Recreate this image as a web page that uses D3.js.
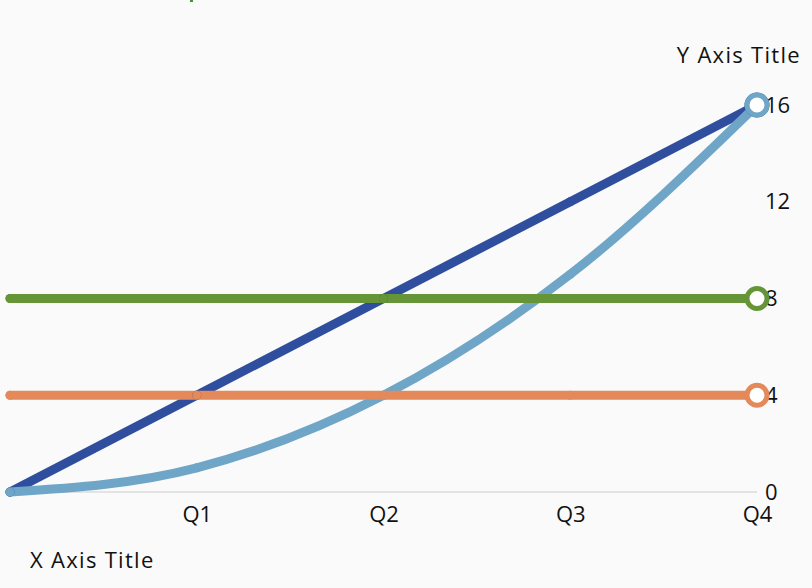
<!DOCTYPE html>
<html><head><meta charset="utf-8">
<script src="https://cdn.jsdelivr.net/npm/d3@7"></script>
<style>body{margin:0;background:#fafafa;} svg{display:block;}</style>
</head><body>
<svg id="c" width="812" height="588"></svg>
<script>
const categories = ["", "Q1", "Q2", "Q3", "Q4"];
const seriesLinear = [0, 4, 8, 12, 16];
const seriesSquare = [0, 1, 4, 9, 16];
const seriesEight = [8, 8, 8, 8, 8];
const seriesFour = [4, 4, 4, 4, 4];
const yTicks = [0, 4, 8, 12, 16];

const series = [
  {name: "Linear", values: seriesLinear, color: "#2f4f9e", curve: d3.curveLinear},
  {name: "Square", values: seriesSquare, color: "#6fa6c8", curve: d3.curveMonotoneX},
  {name: "Eight", values: seriesEight, color: "#659537", curve: d3.curveLinear},
  {name: "Four", values: seriesFour, color: "#e3895a", curve: d3.curveLinear}
];

const svg = d3.select("#c");
svg.append("rect").attr("width", 812).attr("height", 588).attr("fill", "#fafafa");

const x = d3.scalePoint().domain(categories).range([10, 757]);
const y = d3.scaleLinear().domain([0, 16]).range([492, 105]);

const font = "'Open Sans', Roboto, sans-serif";
const fs = 22;
const ls = "1.3px";
const ink = "#111";

// baseline
svg.append("line").attr("x1", x(categories[0])).attr("x2", x(categories[4]))
  .attr("y1", y(0)).attr("y2", y(0)).attr("stroke", "#e3e3e3").attr("stroke-width", 2);

// x axis labels
const xAxis = d3.axisBottom(x).tickSize(0).tickPadding(0);
const gx = svg.append("g").attr("transform", `translate(0,${y(0)+14})`).call(xAxis);
gx.select(".domain").remove();
gx.selectAll("text").attr("font-family", font).attr("font-size", fs).attr("fill", ink)
  .attr("dy", "0.71em");

// y axis labels
const yAxis = d3.axisRight(y).tickValues(yTicks).tickSize(0).tickPadding(0);
const gy = svg.append("g").attr("transform", `translate(765,0)`).call(yAxis);
gy.select(".domain").remove();
gy.selectAll("text").attr("font-family", font).attr("font-size", fs).attr("fill", ink);

// axis titles
svg.append("text").attr("x", 801).attr("y", 63).attr("text-anchor", "end")
  .attr("font-family", font).attr("font-size", fs).attr("letter-spacing", ls)
  .attr("fill", ink).text("Y Axis Title");
svg.append("text").attr("x", 30).attr("y", 568).attr("text-anchor", "start")
  .attr("font-family", font).attr("font-size", fs).attr("letter-spacing", ls)
  .attr("fill", ink).text("X Axis Title");

// lines
series.forEach(s => {
  const line = d3.line().x((d, i) => x(categories[i])).y(d => y(d)).curve(s.curve);
  svg.append("path").datum(s.values).attr("d", line).attr("fill", "none")
    .attr("stroke", s.color).attr("stroke-width", 9).attr("stroke-linecap", "round").attr("stroke-linejoin", "round");
});

// small point markers
series.forEach(s => {
  svg.append("g").selectAll("circle").data(s.values.slice(0, 4)).join("circle")
    .attr("cx", (d, i) => x(categories[i])).attr("cy", d => y(d)).attr("r", 4.5)
    .attr("fill", s.color);
});

// end markers
series.forEach(s => {
  svg.append("circle").attr("cx", x(categories[4])).attr("cy", y(s.values[4])).attr("r", 10)
    .attr("fill", "#fff").attr("stroke", s.color).attr("stroke-width", 5);
});

// clipped legend fragment at top
svg.append("rect").attr("x", 190).attr("y", 0).attr("width", 3).attr("height", 2).attr("fill", "#3a9a3a");
</script>
</body></html>
